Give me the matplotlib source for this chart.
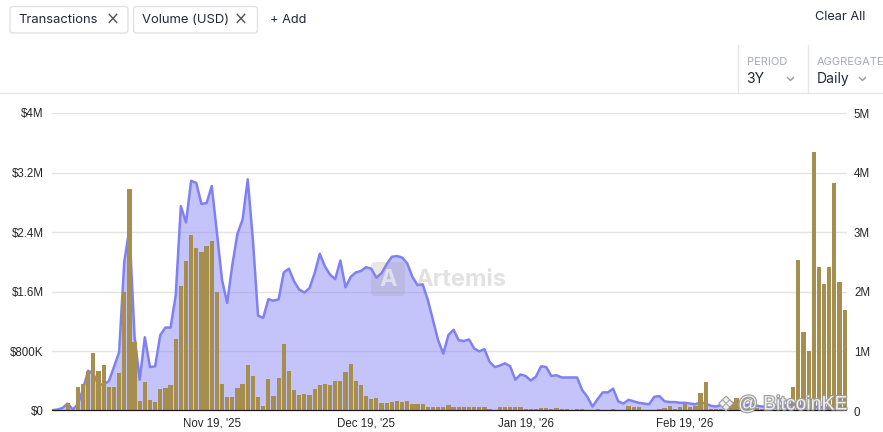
import numpy as np
import pandas as pd
import matplotlib
matplotlib.use('Agg')
import matplotlib.pyplot as plt
import matplotlib.patheffects as pe
from matplotlib.patches import FancyBboxPatch

# ---------------- data ----------------
start_date = '2025-10-19'

# Volume (USD), millions of dollars (left axis, purple area)
volume_usd_m = [
    0.01, 0.02, 0.04, 0.10, 0.02, 0.09, 0.30, 0.54, 0.50, 0.35,
    0.36, 0.40, 0.59, 0.79, 2.00, 2.45, 1.00, 0.42, 0.99, 0.59,
    0.60, 1.02, 1.12, 1.12, 1.55, 2.75, 2.53, 3.09, 3.06, 2.78,
    2.79, 3.02, 2.40, 1.76, 1.45, 1.96, 2.38, 2.57, 3.11, 2.30,
    1.28, 1.25, 1.50, 1.48, 1.50, 1.86, 1.91, 1.74, 1.63, 1.59,
    1.65, 1.85, 2.11, 1.94, 1.83, 1.77, 2.02, 1.66, 1.80, 1.86,
    1.88, 1.93, 1.91, 1.79, 1.85, 1.97, 2.07, 2.08, 2.06, 1.98,
    1.80, 1.69, 1.70, 1.49, 1.22, 0.95, 0.77, 1.02, 1.09, 0.95,
    0.94, 0.96, 0.84, 0.80, 0.83, 0.66, 0.59, 0.61, 0.64, 0.60,
    0.42, 0.49, 0.47, 0.41, 0.46, 0.60, 0.59, 0.47, 0.48, 0.45,
    0.45, 0.45, 0.45, 0.28, 0.19, 0.06, 0.16, 0.25, 0.25, 0.30,
    0.13, 0.10, 0.15, 0.13, 0.11, 0.10, 0.09, 0.19, 0.20, 0.13,
    0.12, 0.12, 0.11, 0.11, 0.10, 0.09, 0.12, 0.10, 0.07, 0.06,
    0.08, 0.10, 0.11, 0.10, 0.09, 0.08, 0.10, 0.07, 0.06, 0.05,
    0.04, 0.06, 0.07, 0.08, 0.09, 0.07, 0.06, 0.05, 0.06, 0.05,
    0.05, 0.04, 0.05, 0.04, 0.04,
]

# Transactions, millions (right axis, golden bars)
transactions_m = [
    0.00, 0.00, 0.00, 0.13, 0.00, 0.40, 0.46, 0.67, 0.98, 0.67,
    0.78, 0.40, 0.40, 0.63, 1.99, 3.72, 1.15, 0.17, 0.48, 0.18,
    0.15, 0.37, 0.39, 0.44, 1.21, 2.10, 2.52, 2.96, 2.73, 2.67,
    2.77, 2.86, 1.99, 0.46, 0.24, 0.24, 0.39, 0.46, 0.78, 0.59,
    0.24, 0.08, 0.54, 0.25, 0.56, 1.12, 0.67, 0.35, 0.27, 0.28,
    0.27, 0.37, 0.44, 0.45, 0.44, 0.50, 0.50, 0.65, 0.79, 0.50,
    0.44, 0.25, 0.20, 0.22, 0.14, 0.14, 0.15, 0.17, 0.15, 0.17,
    0.12, 0.12, 0.12, 0.07, 0.07, 0.06, 0.07, 0.10, 0.07, 0.06,
    0.06, 0.07, 0.06, 0.06, 0.07, 0.03, 0.02, 0.06, 0.06, 0.07,
    0.06, 0.06, 0.03, 0.03, 0.03, 0.05, 0.05, 0.03, 0.05, 0.04,
    0.03, 0.02, 0.04, 0.03, 0.02, 0.02, 0.03, 0.02, 0.02, 0.03,
    0.02, 0.02, 0.08, 0.06, 0.06, 0.00, 0.02, 0.02, 0.03, 0.05,
    0.08, 0.03, 0.07, 0.12, 0.06, 0.09, 0.30, 0.48, 0.04, 0.03,
    0.03, 0.05, 0.13, 0.22, 0.18, 0.06, 0.05, 0.05, 0.04, 0.03,
    0.02, 0.03, 0.03, 0.03, 0.40, 2.53, 1.32, 1.01, 4.34, 2.42,
    2.13, 2.41, 3.83, 2.16, 1.69,
]

x_tick_dates = ['2025-11-19', '2025-12-19', '2026-01-19', '2026-02-19']
x_tick_labels = ["Nov 19, '25", "Dec 19, '25", "Jan 19, '26", "Feb 19, '26"]
left_ticks = [0, 0.8, 1.6, 2.4, 3.2, 4.0]
left_labels = ['$0', '$800K', '$1.6M', '$2.4M', '$3.2M', '$4M']
right_ticks = [0, 1, 2, 3, 4, 5]
right_labels = ['0', '1M', '2M', '3M', '4M', '5M']

chip_labels = ['Transactions', 'Volume (USD)']

# ---------------- figure ----------------
W, H = 883, 432
fig = plt.figure(figsize=(W / 100, H / 100), dpi=100)
fig.patch.set_facecolor('white')

dates = pd.date_range(start_date, periods=len(volume_usd_m), freq='D')

ax = fig.add_axes([52 / W, 21 / H, 795 / W, 298 / H])
ax2 = ax.twinx()

line_col = '#8080f5'
ax.fill_between(dates, volume_usd_m, 0, color=line_col, alpha=0.46, lw=0, zorder=2)
ax.plot(dates, volume_usd_m, color=line_col, lw=1.8, zorder=3, solid_joinstyle='round')
ax2.bar(dates, transactions_m, width=0.82, color='#a68e4e', zorder=3, lw=0)
ax2.axhline(0, color='#1a1a1a', lw=1.6, zorder=5)

ax.set_xlim(dates[0] - pd.Timedelta(hours=1), dates[-1] + pd.Timedelta(hours=11))
ax.set_ylim(0, 4)
ax2.set_ylim(0, 5)

ax.set_yticks(left_ticks)
ax.set_yticklabels(left_labels)
ax2.set_yticks(right_ticks)
ax2.set_yticklabels(right_labels)
ax.set_xticks(pd.to_datetime(x_tick_dates))
ax.set_xticklabels(x_tick_labels)

ax.grid(axis='y', color='#e4e4e4', lw=1.0, zorder=0)
ax.set_axisbelow(True)
for a in (ax, ax2):
    for s in a.spines.values():
        s.set_visible(False)
    a.tick_params(length=0)
ax.patch.set_visible(False)
ax2.patch.set_visible(False)

tick_font = dict(family='Liberation Sans', size=8.3, color='#262626')
ax.tick_params(axis='y', pad=6)
ax2.tick_params(axis='y', pad=5)
ax.tick_params(axis='x', pad=5)
for lab in ax.get_yticklabels() + ax2.get_yticklabels() + ax.get_xticklabels():
    lab.set_fontfamily(tick_font['family'])
    lab.set_fontsize(tick_font['size'])
    lab.set_color(tick_font['color'])

# ---------------- UI overlay ----------------
ui = fig.add_axes([0, 0, 1, 1], zorder=10)
ui.set_xlim(0, W)
ui.set_ylim(H, 0)
ui.axis('off')
ui.patch.set_alpha(0)

ui_font = 'Inter'
txt_col = '#1f2937'

chip_specs = [(10, 118, 18.5, 112.5), (133.5, 124, 142.5, 241)]
for label, (x0, w, tx, xx) in zip(chip_labels, chip_specs):
    ui.add_patch(FancyBboxPatch((x0, 6.5), w, 26.5,
                                boxstyle='round,pad=0,rounding_size=3',
                                ec='#e1e1e6', fc='white', lw=1))
    ui.text(tx, 20, label, family=ui_font, fontsize=9.4, color=txt_col, va='center', ha='left')
    ui.text(xx, 19.5, '\u00d7', family='DejaVu Sans', fontsize=12, color='#555555',
            va='center', ha='center')

ui.text(270, 20, '+ Add', family=ui_font, fontsize=9.2, color=txt_col, va='center', ha='left')
ui.text(815, 17.5, 'Clear All', family=ui_font, fontsize=9.2, color=txt_col, va='center', ha='left')

ui.plot([0, W], [93, 93], color='#e6e6e6', lw=1)
ui.plot([737.5, 737.5], [45, 93], color='#e6e6e6', lw=1)
ui.plot([807.5, 807.5], [45, 93], color='#e6e6e6', lw=1)

ui.text(746.5, 62, 'PERIOD', family=ui_font, fontsize=8, color='#a8a8b8', va='center', ha='left')
ui.text(746.5, 79, '3Y', family=ui_font, fontsize=10, color=txt_col, va='center', ha='left')
ui.text(816.5, 62, 'AGGREGATE', family=ui_font, fontsize=8, color='#a8a8b8', va='center', ha='left')
ui.text(816.5, 79, 'Daily', family=ui_font, fontsize=10, color=txt_col, va='center', ha='left')
for cx in (790.5, 862.5):
    ui.plot([cx - 3, cx, cx + 3], [77.5, 80.5, 77.5], color='#9a9a9a', lw=1)

# watermarks
ui.add_patch(FancyBboxPatch((371, 262), 34, 34, boxstyle='round,pad=0,rounding_size=4',
                            fc='#9a9a9a', ec='none', alpha=0.22))
ui.text(388, 280, 'A', family=ui_font, fontweight='bold', fontsize=17, color='white',
        alpha=0.55, va='center', ha='center')
ui.text(415, 280, 'Artemis', family=ui_font, fontweight='bold', fontsize=17,
        color='#a0a0a0', alpha=0.3, va='center', ha='left')

outline = [pe.withStroke(linewidth=1.6, foreground='#9c9c9c')]
ui.text(726, 405, '\u2756', family='DejaVu Sans', fontsize=13, color='#eeeeee',
        va='center', ha='center', path_effects=outline)
t = ui.text(738, 405, '@ BitcoinKE', family='Liberation Sans', fontsize=14, color='#eeeeee',
            va='center', ha='left', path_effects=outline)

fig.savefig('out.png', dpi=100, facecolor='white')
